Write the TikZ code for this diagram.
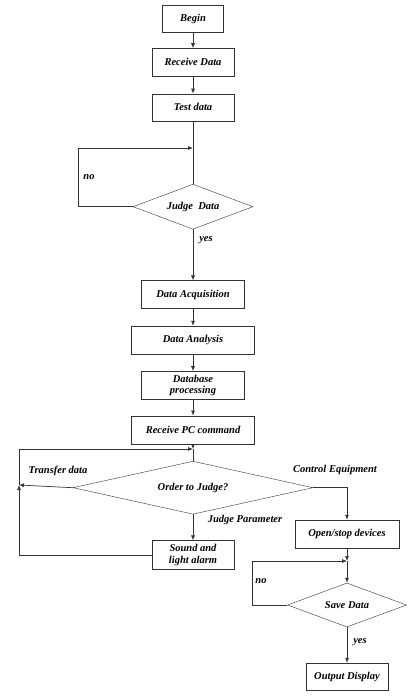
\documentclass[tikz,border=0pt]{standalone}
\usepackage{fontspec}
\setmainfont{Liberation Serif}
\usepackage{tikz}
\usetikzlibrary{shapes.geometric, arrows.meta, positioning}

\begin{document}
\begin{tikzpicture}[
    x=1pt, y=-1pt,
    font=\fontsize{10.5}{11.5}\selectfont\bfseries\itshape,
    box/.style={rectangle, draw=black!80, fill=white, minimum height=28pt, inner sep=2pt, align=center},
    decision/.style={diamond, draw=black!80, fill=white, inner sep=0pt, aspect=2.6},
    arrow/.style={-{Latex[length=5pt,width=4pt]}, draw=black!80, line width=0.7pt},
    line/.style={draw=black!80, line width=0.7pt},
    lbl/.style={font=\fontsize{10.5}{11.5}\selectfont\bfseries\itshape}
]
\useasboundingbox (0,0) rectangle (419,699);

% main column
\node[box, minimum width=61pt, minimum height=27pt] (begin) at (193,18.5) {Begin};
\node[box, minimum width=82pt, below=16pt of begin] (recv) {Receive Data};
\node[box, minimum width=82pt, minimum height=27pt, below=17pt of recv] (test) {Test data};
\node[decision, minimum width=120pt, minimum height=45pt, below=63pt of test] (judge) {Judge~~Data};
\node[box, minimum width=103pt, below=51pt of judge] (acq) {Data Acquisition};
\node[box, minimum width=123pt, below=17pt of acq] (analysis) {Data Analysis};
\node[box, minimum width=103pt, below=17pt of analysis] (dbproc) {Database\\processing};
\node[box, minimum width=123pt, below=16pt of dbproc] (recvpc) {Receive PC command};
\node[decision, minimum width=240pt, minimum height=53pt, aspect=4.5, below=17pt of recvpc] (order) {Order to Judge?};
\node[box, minimum width=82pt, minimum height=29pt, below=26pt of order] (alarm) {Sound and\\light alarm};

% right column
\node[box, minimum width=104pt] (openstop) at (347,534) {Open/stop devices};
\node[decision, minimum width=119pt, minimum height=44pt] (save) at (347,605) {Save Data};
\node[box, minimum width=82pt, minimum height=27pt] (output) at (347,676.5) {Output Display};

% junctions
\coordinate (j1) at (193,148);
\coordinate (j2) at (193,449);
\coordinate (j3) at (347,561);
\coordinate (tl) at (19,485);

\draw[arrow] (begin) -- (recv);
\draw[arrow] (recv) -- (test);
\draw[line] (test) -- (judge);
\draw[arrow] (judge.west) -- ++(-54,0) |- (j1);
\draw[arrow] (judge.south) -- (acq.north);
\draw[arrow] (acq) -- (analysis);
\draw[arrow] (analysis) -- (dbproc);
\draw[arrow] (dbproc) -- (recvpc);
\draw[arrow] (recvpc) -- (j2);
\draw[line] (j2) -- (order.north);
\draw[arrow] (order.west) -- (tl);
\draw[arrow] (alarm.west) -| (tl);
\draw[arrow] (tl) |- (j2);
\draw[arrow] (order.south) -- (alarm.north);
\draw[arrow] (order.east) -| (openstop.north);
\draw[arrow] (openstop.south) -- (j3);
\draw[arrow] (j3) -- (save.north);
\draw[arrow] (save.west) -- ++(-35,0) |- (j3);
\draw[arrow] (save.south) -- (output.north);

% labels
\node[lbl] (no1) at (89,177) {no};
\node[lbl] (yes1) at (206,240) {yes};
\node[lbl] (transfer) at (58,471) {Transfer data};
\node[lbl] (control) at (335,470) {Control Equipment};
\node[lbl] (jparam) at (245,520) {Judge Parameter};
\node[lbl] (no2) at (261,581) {no};
\node[lbl] (yes2) at (360,642) {yes};

\end{tikzpicture}
\end{document}
